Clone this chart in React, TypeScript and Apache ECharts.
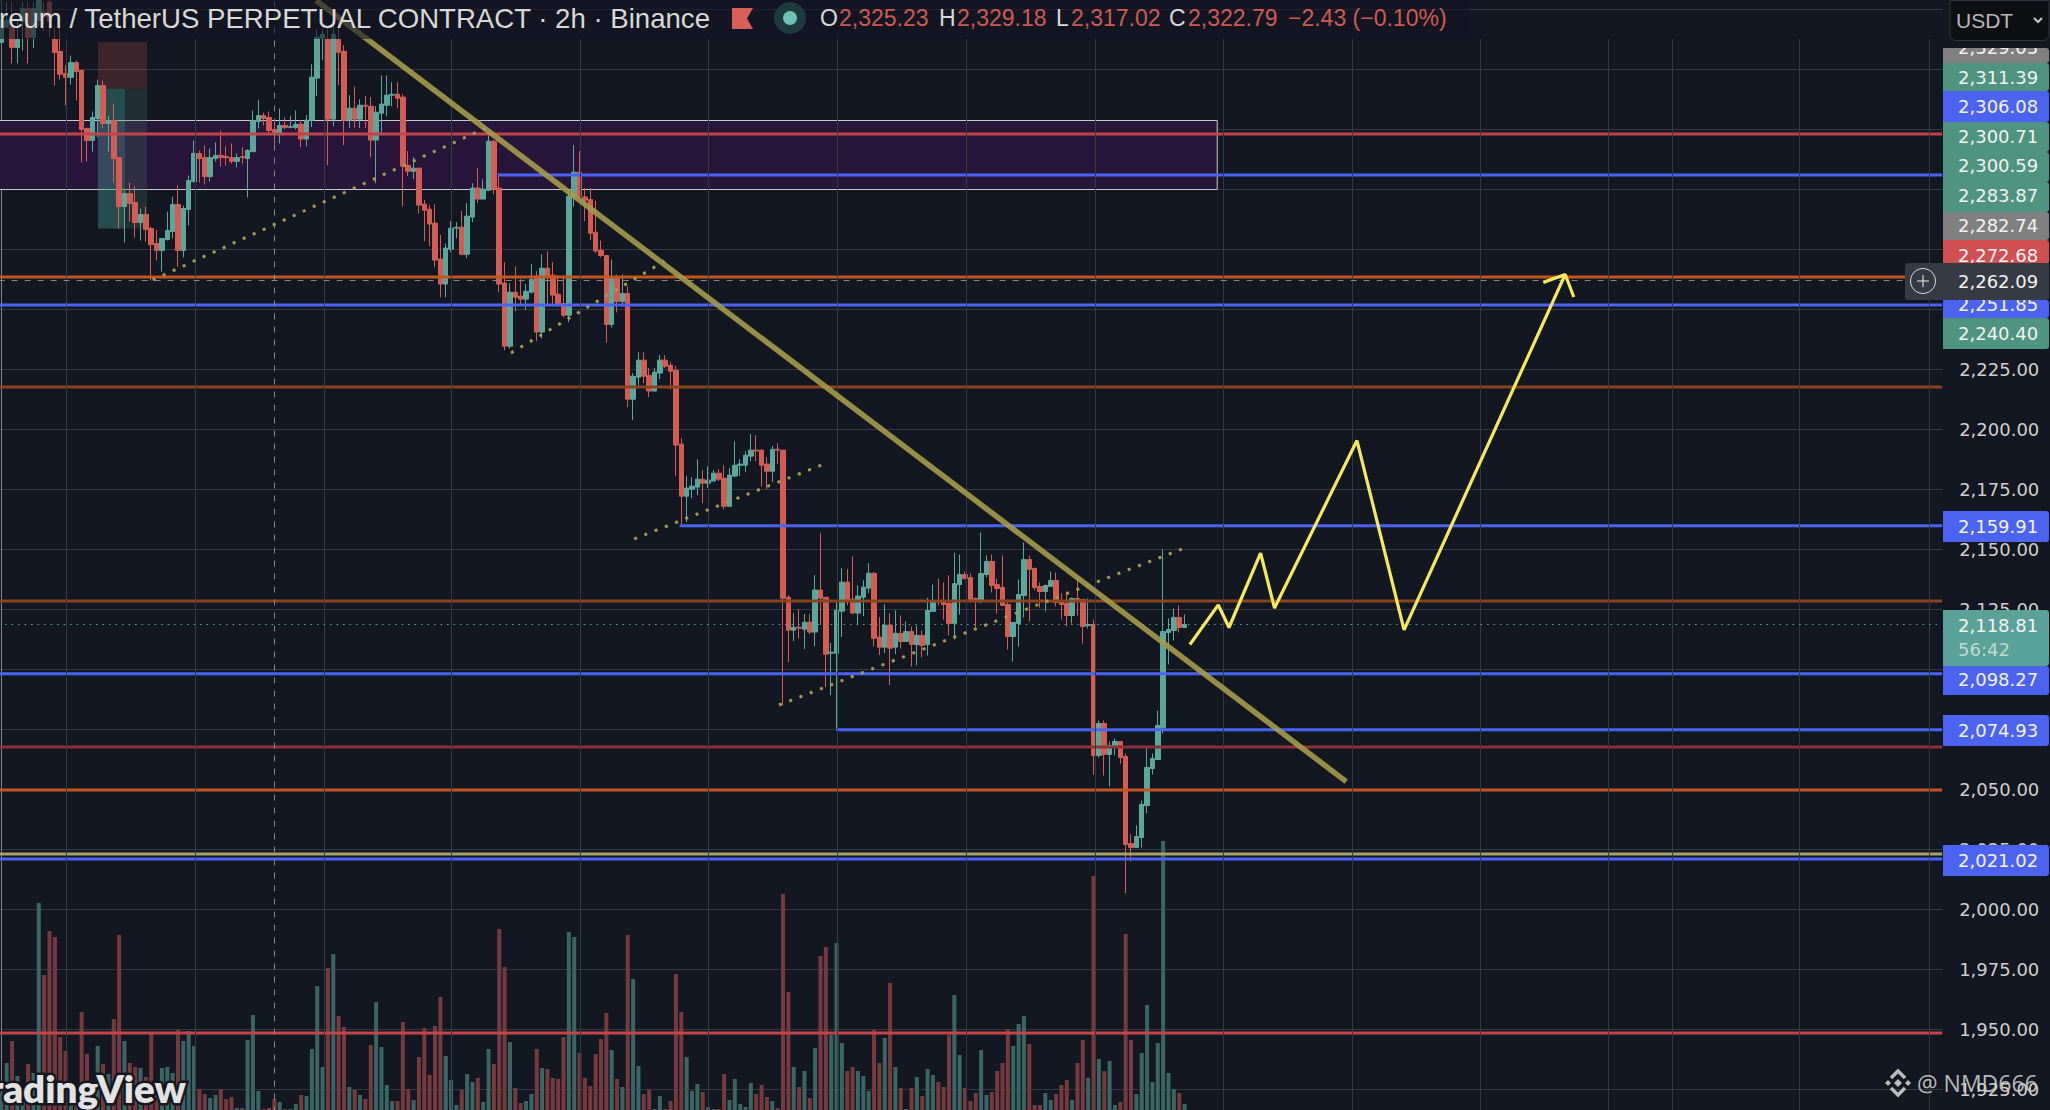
import React, { useEffect, useRef } from "react";
import * as echarts from "echarts";

// Each row: open, close, low, high (USDT).
const candleRows: number[][] = [
  [2361.3,2370.4,2361.3,2371],[2367.6,2370.4,2367.6,2378],[2367.6,2359.2,2352.5,2378],[2359.2,2362.5,2352.5,2370.4],[2370,2375.4,2358,2378],
  [2375.4,2363.3,2352.5,2378],[2363.3,2375.4,2359,2378],[2370.4,2378.75,2368,2380],[2374,2372,2366,2378],[2378,2370,2363.3,2380],
  [2362.5,2357.1,2343.3,2367.5],[2357.5,2348,2345.8,2368.3],[2348.3,2346.7,2335,2351.7],[2346.7,2352.9,2343.75,2355.8],[2352.9,2349.2,2337.1,2353.75],
  [2349.6,2325,2311.25,2350],[2325.4,2320.4,2311.7,2325.8],[2320.4,2330,2315.8,2332.5],[2329.6,2343.3,2321.7,2345.8],[2343.3,2327.5,2325.8,2345.4],
  [2327.5,2328.75,2315.8,2330.7],[2328.75,2312.9,2302.9,2335.8],[2313.3,2292.9,2283.75,2313.3],[2292.9,2298.3,2277.9,2299.5],[2298.3,2294.2,2286.7,2302.9],
  [2294.6,2286.25,2280,2301.25],[2286.25,2289.6,2278.75,2292.1],[2289.6,2283.3,2278.3,2292.9],[2283.75,2277,2262.1,2284.6],[2277.5,2274.6,2270.4,2283.3],
  [2274.6,2279.6,2265.8,2279.6],[2279.2,2282.9,2278.75,2290.8],[2282.5,2293.75,2279.6,2297],[2293.75,2274.6,2267.9,2301.7],[2274.6,2292.1,2271.7,2293.3],
  [2291.7,2303.75,2285,2305.8],[2303.3,2315,2302.9,2320.4],[2315,2312.9,2302.9,2316.25],[2313.3,2305.4,2302.1,2318.3],[2305.4,2313.3,2303.3,2317],
  [2312.9,2314.2,2311.7,2319.6],[2314.2,2313.3,2309.6,2324.6],[2313.75,2313.3,2310,2317.9],[2313.3,2311.7,2310.8,2319.2],[2311.7,2313.3,2309.2,2315],
  [2313.75,2313.3,2310.8,2317.5],[2312.9,2316.25,2296.7,2316.7],[2315.8,2328.8,2315.8,2332.9],[2328.3,2330.8,2325.4,2337.2],[2330.8,2329.6,2326.7,2332],
  [2330,2324.6,2323.3,2332.5],[2325,2322.9,2318.75,2329.2],[2322.9,2326.7,2319.2,2333.75],[2326.7,2325.8,2325,2330],[2325.8,2326.2,2325.8,2330.8],
  [2325.8,2327.1,2325,2332.9],[2327.2,2321,2317.6,2328.9],[2321,2328.9,2318,2331],[2328.9,2346.8,2326,2352.2],[2346.4,2363.5,2338.9,2366.8],
  [2363,2364.7,2353.9,2367],[2362.6,2329.3,2310.1,2368],[2329.3,2364.7,2326.4,2372],[2362.6,2357.2,2343.5,2370],[2357.6,2328.9,2318.5,2360.1],
  [2328.9,2333.9,2325.6,2339.3],[2333.9,2329.3,2325.6,2343],[2329.3,2335.1,2325.6,2337.6],[2335.1,2334.7,2325.6,2339],[2334.7,2320.6,2313.5,2338.5],
  [2320.6,2332.2,2302.6,2334.7],[2331.8,2335.6,2322.6,2347.5],[2335.1,2339.3,2330.6,2347.5],[2339.3,2339.7,2334.7,2344.7],[2339.7,2338,2333.9,2344.7],
  [2338.5,2309.7,2293,2339.7],[2310.1,2307.6,2305.6,2316],[2307.6,2308.9,2304.3,2313.5],[2308.9,2293.5,2290,2308.9],[2293.9,2291.4,2278.5,2295.6],
  [2291.8,2285.6,2276.4,2293.5],[2286,2270.6,2267.6,2293.9],[2271,2260.6,2255.1,2281],[2260.6,2275.6,2255.1,2277.5],[2275.1,2283.9,2273.9,2286.8],
  [2283.9,2284.3,2279.7,2286.4],[2284.3,2273,2272.6,2291],[2273,2288.9,2271.4,2294.3],[2288.5,2300.6,2286.4,2302.6],[2300.6,2296,2294.3,2308.9],
  [2296,2300.1,2296,2304.3],[2299.7,2320.1,2299.3,2322.6],[2320.1,2300.1,2298,2320.6],[2300.6,2260.6,2257.2,2306.8],[2261,2234.7,2233,2269.7],
  [2234.7,2257.2,2233.75,2261],[2257.2,2255.1,2249.3,2268],[2255.6,2254.3,2252.2,2262.6],[2254.3,2257.6,2249.7,2260.6],[2257.2,2262.5,2256.7,2268.9],
  [2263.9,2240.6,2236.8,2266],[2240.6,2267.2,2238,2273],[2267.2,2263.9,2251.4,2274.3],[2264.3,2256,2251.4,2269.7],[2256.4,2252.5,2251.1,2264.3],
  [2252.5,2247.6,2246.7,2264.3],[2247.6,2297.2,2244.7,2299.7],[2296.9,2307.2,2292.8,2318.5],[2307.2,2296.9,2296.4,2316],[2296.9,2295.5,2286.8,2300.6],
  [2295.8,2281.8,2278.9,2300.6],[2282.2,2274.4,2273.6,2295.3],[2274.7,2272.5,2271.7,2278.75],[2272.5,2243.75,2236.25,2272.5],[2243.75,2262.9,2242.5,2270.8],
  [2262.9,2253.3,2248.75,2264.6],[2253.3,2256.7,2251.25,2264.6],[2256.7,2212.6,2209.3,2259.6],[2212.6,2222.2,2203.9,2223.5],[2221.8,2228.9,2217.6,2232.2],
  [2228.9,2222.2,2219.3,2232.2],[2222.6,2216,2213.5,2225.6],[2216,2223.9,2216,2225.6],[2223.5,2228.9,2221,2231],[2228.9,2226.4,2225.6,2231],
  [2226.8,2224.3,2216.8,2228.1],[2224.7,2193.5,2180.6,2226.4],[2193.9,2172.2,2160.6,2196.4],[2172.2,2175.6,2161.4,2180.6],[2175.1,2176.4,2171.4,2180.1],
  [2176,2179.3,2172.6,2187.6],[2179.3,2177.6,2169.3,2183.1],[2177.6,2178.9,2175.6,2184.7],[2178.5,2181.8,2178.5,2183.1],[2181.8,2179.3,2178.5,2183.5],
  [2179.7,2168,2166.8,2185.1],[2168,2181,2168,2183.9],[2180.6,2185.1,2180.1,2195.1],[2185.1,2185.6,2180.6,2187.6],[2185.1,2189.3,2182.2,2191],
  [2188.9,2191.4,2186.8,2198.1],[2191.4,2191,2186.8,2197.6],[2191.4,2185.1,2176.4,2191.8],[2185.6,2182.6,2175.1,2188.5],[2182.6,2191.8,2178.1,2193.1],
  [2191.8,2191.4,2185.6,2194.3],[2191.4,2129.7,2085,2191.4],[2130.1,2116.4,2103.1,2131],[2116.4,2117.6,2111.8,2123.5],[2117.6,2117.2,2113,2125.1],
  [2116.8,2119.7,2108.5,2123.1],[2119.7,2115.6,2114.7,2123.1],[2115.6,2133.1,2109.7,2139.3],[2133.1,2129.7,2118.5,2156.8],[2130.1,2106.4,2092.6,2130.1],
  [2106.8,2107.2,2089.3,2111],[2106.8,2124.7,2075,2128.1],[2124.3,2136.4,2113.5,2142.2],[2136.4,2128.9,2126.8,2141.8],[2129.3,2123.5,2123.1,2147.2],
  [2123.5,2130.6,2118.5,2135.1],[2130.1,2134.3,2122.2,2137.2],[2133.9,2140.1,2131.8,2144.3],[2140.1,2113,2109.7,2140.6],[2113.5,2109.3,2106,2121.8],
  [2109.3,2118.5,2106.8,2127.2],[2118.5,2108.9,2093.5,2123.5],[2109.3,2115.1,2106.4,2124.7],[2115,2111.7,2108.75,2122.5],[2111.7,2115.8,2111.7,2120],
  [2115.8,2110.4,2101.25,2117.9],[2110.4,2114.2,2101.7,2118.3],[2114.2,2110,2105,2116.25],[2110.4,2124.6,2105.8,2129.9],[2124.2,2128.75,2124.2,2135.4],
  [2128.75,2128.3,2126.7,2137.9],[2128.75,2127.1,2120.8,2136.25],[2127.5,2119.2,2114.2,2139.2],[2119.2,2135.8,2112.5,2148.75],[2135.4,2139.6,2122.9,2147.9],
  [2139.6,2137.9,2137.5,2140.8],[2138.3,2129.2,2128.75,2140],[2129.6,2128.3,2117.5,2130],[2128.3,2140,2127.5,2157.1],[2139.6,2145,2138.3,2147.5],
  [2145,2135,2132.1,2147.9],[2135.4,2133.75,2123.3,2137.9],[2134.2,2126.7,2126.7,2147.5],[2127.1,2113.75,2108.3,2129.2],[2113.75,2119.6,2103.3,2119.6],
  [2119.2,2131.25,2109.6,2137.5],[2130.8,2145.8,2121.7,2152.9],[2145.8,2141.7,2120,2147.5],[2142.1,2134.2,2132.9,2142.5],[2134.6,2132.5,2125.8,2136.25],
  [2132.5,2135,2124.2,2135.4],[2134.6,2137.1,2134.6,2140.8],[2137.1,2127.9,2126.25,2140.4],[2128.3,2127.1,2120.8,2131.7],[2127.5,2122.5,2117.9,2132.5],
  [2122.5,2129.6,2119.2,2130],[2129.6,2129.2,2122.5,2137.5],[2129.2,2117.9,2110.8,2129.2],[2118.3,2118.75,2117.1,2129.6],[2118.75,2064.2,2056.25,2120.8],
  [2064.2,2077.5,2063.3,2078.75],[2077.5,2064.6,2055.8,2078.75],[2064.6,2068.3,2051.25,2070],[2067.9,2070,2064.2,2071.25],[2070,2063.3,2060.8,2070],
  [2063.75,2027.1,2006.7,2065],[2027.5,2025.8,2020,2031.25],[2025.8,2030.4,2025.8,2035],[2030,2043.75,2025.8,2045.4],[2043.3,2059.2,2040,2067.9],
  [2058.75,2062.9,2056.25,2065],[2062.5,2076.7,2062.5,2082.9],[2075.8,2115.8,2073.3,2150],[2115.4,2116.7,2102.1,2121.25],[2116.25,2121.7,2112.1,2125.4],
  [2121.7,2117.5,2115.4,2126.7],[2117.5,2118.75,2117.5,2122.9],
];

// Volume of each bar, in the chart's own volume units.
const volumes: number[] = [
  17,47,69,34,20,46,37,207,135,179,173,73,59,20,23,98,56,23,64,46,36,91,175,69,47,43,42,33,77,20,
  42,43,37,80,69,79,64,21,16,12,15,21,11,13,2,2,70,95,19,1,2,11,8,1,1,6,15,14,61,124,
  43,142,156,94,83,23,20,15,11,65,108,63,25,9,9,88,21,10,53,82,35,84,113,54,30,5,20,36,28,32,
  8,61,46,181,143,68,22,7,9,16,61,42,41,32,31,73,178,173,57,32,24,56,71,97,60,31,23,175,131,44,
  16,20,1,14,1,9,136,98,53,19,26,18,3,1,1,36,10,31,6,3,27,16,25,13,9,2,216,118,43,23,
  39,12,62,154,163,75,167,67,39,43,39,34,19,80,47,72,127,43,22,1,22,33,14,41,35,28,23,75,115,55,
  22,9,17,60,15,18,39,47,81,64,86,94,66,5,5,17,10,16,25,30,10,47,70,32,234,51,39,49,5,8,
  176,70,16,57,105,28,67,269,37,21,17,6,
];

const axisTicks = [2225, 2200, 2175, 2150, 2125, 2050, 2025, 2000, 1975, 1950, 1925];

const fullLevels = [2323.1, 2263.5, 2251.85, 2217.7, 2128.5, 2098.27, 2067.7, 2049.8, 2023.1, 2021.02, 1948.5];
const rayLevels = [2306.08, 2159.91, 2074.93];
const rayStartBars = [92.8, 126.7, 155.9];

const trendBars = [58.8, 251.2];
const trendPrices = [2378.75, 2053.3];

const dottedBars = [[28.27, 91.46], [95.2, 123.96], [118.2, 153.66], [145.25, 220.5]];
const dottedPrices = [[2262.3, 2326.6], [2231.9, 2270.3], [2154.4, 2185.6], [2085.2, 2150.2]];

const projectionBars = [222, 227.3, 229.3, 235.2, 237.8, 253.2, 262, 292.1];
const projectionPrices = [2110.4, 2126.9, 2117.5, 2148.5, 2125.6, 2195.4, 2116.5, 2264.6];
const arrowBars = [288, 292.1, 293.7];
const arrowPrices = [2261.3, 2264.6, 2255.2];

const priceTags = ["2,329.03", "2,311.39", "2,306.08", "2,300.71", "2,300.59", "2,283.87", "2,282.74", "2,272.68", "2,251.85", "2,240.40", "2,159.91", "2,118.81", "2,098.27", "2,074.93", "2,021.02"];
const headerValues = ["2,325.23", "2,329.18", "2,317.02", "2,322.79"];

const BG = "#131722";
const UP = "#5ca79b";
const DOWN = "#d35c55";
const VOL_UP = "#3a6563";
const VOL_DOWN = "#753a3d";
const BLUE = "#4a63f5";
const GRID = "#363944";
const LAST_BAR = 362.5;
const axisFont = "DejaVu Sans";
const headFont = "Liberation Sans";

const fullColors = ["#c0444a", "#c4571f", BLUE, "#8a4420", "#8a4420", BLUE, "#8c3338", "#c4571f", "#a8a260", BLUE, "#c4454a"];
const gridBars = [12.17, 36.17, 60.27, 84, 108.1, 132, 156.1, 180.2, 204.3, 228.2, 252.3, 276.2, 300.1, 312.1, 335.9, 360];
// top, bottom, colour, text centre of each price tag, in the order of priceTags
const tagBoxes: [number, number, string, number][] = [
  [48, 63, "#808080", 47], [63, 91, "#4f9480", 77], [91, 122, "#4c63f0", 106], [122, 152, "#4f9480", 136], [152, 182, "#4f9480", 165],
  [182, 212, "#4f9480", 195], [212, 240, "#808080", 225], [240, 264, "#cf4f52", 255], [300, 318, "#4c63f0", 304], [318, 349, "#4f9480", 333],
  [511, 542, "#4c63f0", 526], [610, 666, "#5aa197", 625], [666, 695, "#4c63f0", 679], [715, 746, "#4c63f0", 730], [845, 876, "#4c63f0", 860],
];

function lineSeries(data: number[][], color: string, width: number, z: number, extra: any = {}) {
  return {
    type: "line", xAxisIndex: 1, yAxisIndex: 0, data, z, silent: true, showSymbol: false, symbol: "none",
    lineStyle: { color, width, ...extra }, animation: false,
  };
}

function buildGraphic() {
  const T = (text: string, x: number, y: number, fill: string, font: string, align = "left", extra: any = {}) => ({
    type: "text", z: 100, silent: true,
    style: { text, x, y, fill, font, textAlign: align, textVerticalAlign: "middle", ...extra },
  });
  const R = (x: number, y: number, w: number, h: number, fill: string, r: any = 0, extra: any = {}) => ({
    type: "rect", z: 99, silent: true, shape: { x, y, width: w, height: h, r }, style: { fill, ...extra },
  });
  const els: any[] = [];
  // header veil
  els.push(R(0, 0, 1470, 39, "rgba(19,23,34,0.62)"));
  const hf = `27.6px "${headFont}"`;
  const vf = `23px "${headFont}"`;
  els.push(T("Ethereum / TetherUS PERPETUAL CONTRACT · 2h · Binance", 710, 18, "#d8d8d8", hf, "right"));
  els.push({ type: "polygon", z: 100, silent: true, shape: { points: [[732, 8], [753, 8], [747, 18.5], [753, 29], [732, 29]] }, style: { fill: "#d9605a" } });
  els.push({ type: "circle", z: 100, silent: true, shape: { cx: 790, cy: 18, r: 16 }, style: { fill: "#1e3a3d" } });
  els.push({ type: "circle", z: 100, silent: true, shape: { cx: 790, cy: 18, r: 7 }, style: { fill: "#6ec2b4" } });
  const letters = ["O", "H", "L", "C"];
  const letterX = [820, 939, 1056, 1169];
  const valueX = [839, 957, 1071, 1188];
  letters.forEach((l, i) => {
    els.push(T(l, letterX[i], 18, "#d8d8d8", vf));
    els.push(T(headerValues[i], valueX[i], 18, "#cf5a54", vf));
  });
  els.push(T("−2.43 (−0.10%)", 1288, 18, "#cf5a54", vf));

  // price tags
  const tf = `18px "${axisFont}"`;
  priceTags.forEach((t, i) => {
    const [top, bottom, color, cy] = tagBoxes[i];
    els.push(R(1943, top, 106, bottom - top, color, [0, 3, 3, 0]));
    els.push(T(t, 1958, cy, "#f2f2f2", tf));
  });
  els.push(T("56:42", 1958, 649, "rgba(255,255,255,0.62)", tf));
  // covers above the tag stack and the currency box
  els.push({ ...R(1943, 0, 107, 48, BG), z: 100 });
  els.push({ type: "rect", z: 101, silent: true, shape: { x: 1950, y: 0.5, width: 99, height: 40, r: [0, 0, 6, 6] }, style: { fill: "#0e0f12", stroke: "#33353c", lineWidth: 1 } });
  els.push({ ...T("USDT", 1956, 20, "#b8b8b8", `21px "${headFont}"`), z: 102 });
  els.push({ type: "polyline", z: 102, silent: true, shape: { points: [[2034, 18], [2038, 22], [2042, 18]] }, style: { stroke: "#c8c8c8", lineWidth: 2, fill: "none" } });

  // crosshair tag
  els.push({ ...R(1905, 263, 144, 37, "#363a45", 3), z: 103 });
  els.push({ ...T("2,262.09", 1958, 281, "#f2f2f2", tf), z: 104 });
  els.push({ type: "circle", z: 104, silent: true, shape: { cx: 1923, cy: 281, r: 12.5 }, style: { fill: "none", stroke: "#dcdcdc", lineWidth: 1 } });
  els.push({ type: "line", z: 104, silent: true, shape: { x1: 1917, y1: 281, x2: 1929, y2: 281 }, style: { stroke: "#f0f0f0", lineWidth: 1 } });
  els.push({ type: "line", z: 104, silent: true, shape: { x1: 1923, y1: 275, x2: 1923, y2: 287 }, style: { stroke: "#f0f0f0", lineWidth: 1 } });

  // watermarks
  els.push(T("TradingView", 186, 1088, "#e2e2e2", `800 38.5px "Lato"`, "right", { stroke: "#15171f", lineWidth: 5 }));
  const wm = "rgba(205,205,205,0.9)";
  const d = (cx: number, cy: number, r: number) => ({ type: "polygon", z: 100, silent: true, shape: { points: [[cx, cy - r], [cx + r, cy], [cx, cy + r], [cx - r, cy]] }, style: { fill: wm } });
  els.push(d(1898, 1083, 4), d(1888, 1083, 3), d(1908, 1083, 3));
  els.push({ type: "polyline", z: 100, silent: true, shape: { points: [[1891, 1078], [1898, 1071], [1905, 1078]] }, style: { stroke: wm, lineWidth: 3.5, fill: "none" } });
  els.push({ type: "polyline", z: 100, silent: true, shape: { points: [[1891, 1088], [1898, 1095], [1905, 1088]] }, style: { stroke: wm, lineWidth: 3.5, fill: "none" } });
  els.push(T("@ NMD666", 1917, 1083, wm, `23px "Open Sans"`));
  return els;
}

function buildOption(): any {
  const cats = Array.from({ length: 363 }, (_, i) => String(i));
  const top = 2362.7;
  const series: any[] = [
    {
      type: "line", xAxisIndex: 1, yAxisIndex: 0, data: [], z: 1, silent: true,
      markLine: {
        silent: true, symbol: "none", animation: false, label: { show: false },
        lineStyle: { color: GRID, width: 1, type: "solid" },
        data: gridBars.map((b) => [{ xAxis: b, yAxis: top }, { xAxis: b, yAxis: 1900 }]),
      },
      markArea: {
        silent: true, animation: false, label: { show: false },
        data: [
          [{ xAxis: -0.5, yAxis: 2328.75, itemStyle: { color: "#28163a", borderColor: "#c9c9c9", borderWidth: 1 } }, { xAxis: 227.1, yAxis: 2300 }],
          [{ xAxis: 18.05, yAxis: 2361.5, itemStyle: { color: "rgba(214,84,84,0.22)" } }, { xAxis: 27.2, yAxis: 2342 }],
          [{ xAxis: 18.05, yAxis: 2342, itemStyle: { color: "rgba(66,150,140,0.42)" } }, { xAxis: 23.1, yAxis: 2283.7 }],
          [{ xAxis: 23.1, yAxis: 2342, itemStyle: { color: "rgba(70,110,100,0.28)" } }, { xAxis: 27.2, yAxis: 2283.7 }],
        ],
      },
    },
    {
      type: "bar", xAxisIndex: 0, yAxisIndex: 1, barWidth: 4, z: 2, silent: true,
      data: volumes.map((v, i) => ({
        value: v,
        itemStyle: { color: candleRows[i][1] >= candleRows[i][0] ? VOL_UP : VOL_DOWN },
      })),
    },
    {
      type: "line", xAxisIndex: 1, yAxisIndex: 0, data: [], z: 2, silent: true,
      markLine: {
        silent: true, symbol: "none", animation: false, label: { show: false },
        data: [
          [{ xAxis: 50.98, yAxis: 2400, lineStyle: { color: "#85878f", type: [6, 7], width: 1 } }, { xAxis: 50.98, yAxis: 1900 }],
          [{ xAxis: -0.5, yAxis: 2262.09, lineStyle: { color: "#85878f", type: [6, 7], width: 1 } }, { xAxis: LAST_BAR, yAxis: 2262.09 }],
          [{ xAxis: -0.5, yAxis: 2118.81, lineStyle: { color: "#5ca79b", type: [1.5, 5], width: 1 } }, { xAxis: LAST_BAR, yAxis: 2118.81 }],
        ],
      },
    },
    {
      type: "candlestick", xAxisIndex: 0, yAxisIndex: 0, barWidth: 5, z: 3, silent: true,
      data: candleRows,
      itemStyle: { color: UP, color0: DOWN, borderColor: UP, borderColor0: DOWN, borderWidth: 1 },
    },
    ...fullLevels.map((p, i) => lineSeries([[-0.5, p], [LAST_BAR, p]], fullColors[i], 3, 4)),
    ...rayLevels.map((p, i) => lineSeries([[rayStartBars[i], p], [LAST_BAR, p]], BLUE, 3, 4)),
    ...dottedBars.map((b, i) =>
      lineSeries([[b[0], dottedPrices[i][0]], [b[1], dottedPrices[i][1]]], "#a39b52", 3, 5, { type: [3, 8] })),
    lineSeries(trendBars.map((b, i) => [b, trendPrices[i]]), "rgba(165,155,75,0.9)", 5.5, 6),
    lineSeries(projectionBars.map((b, i) => [b, projectionPrices[i]]), "#f4e95e", 3.2, 7),
    lineSeries(arrowBars.map((b, i) => [b, arrowPrices[i]]), "#f4e95e", 3.2, 7),
  ];
  return {
    animation: false,
    backgroundColor: BG,
    grid: { left: -1.35, top: -50.5, width: 1943.5, height: 1200, containLabel: false, outerBoundsMode: "none" },
    xAxis: [
      { type: "category", data: cats, show: false, boundaryGap: true },
      { type: "value", min: -0.5, max: LAST_BAR, show: false, splitLine: { show: false } },
    ],
    yAxis: [
      {
        type: "value", position: "right", min: 1900, max: 2400, interval: 25, scale: true,
        axisLine: { show: true, lineStyle: { color: "#85858a", width: 1 } },
        axisTick: { show: false },
        splitLine: { show: true, lineStyle: { color: GRID, width: 1 } },
        axisLabel: {
          margin: 17, color: "#cfcfcf", fontFamily: axisFont, fontSize: 18, padding: [0, 0, 3, 0],
          formatter: (v: number) =>
            axisTicks.includes(v) ? v.toLocaleString("en-US", { minimumFractionDigits: 2, maximumFractionDigits: 2 }) : "",
        },
      },
      { type: "value", min: -39.5, max: 1160.5, show: false, splitLine: { show: false } },
    ],
    series,
    graphic: buildGraphic(),
  };
}

export default function App() {
  const ref = useRef<HTMLDivElement>(null);
  useEffect(() => {
    document.body.style.margin = "0";
    document.body.style.background = BG;
    const chart = echarts.init(ref.current!, undefined, { renderer: "svg" });
    chart.setOption(buildOption());
    return () => chart.dispose();
  }, []);
  return <div ref={ref} style={{ width: 2050, height: 1110, overflow: "hidden" }} />;
}
